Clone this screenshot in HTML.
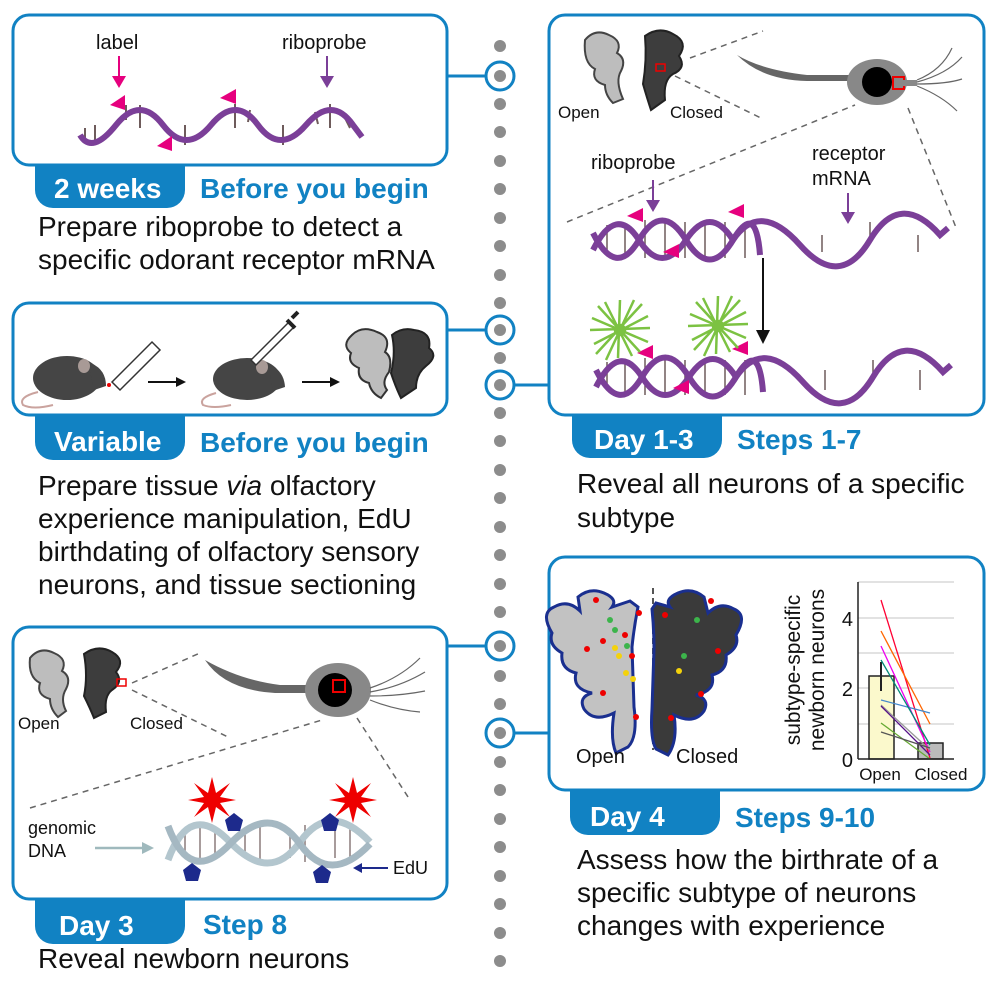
<!DOCTYPE html>
<html><head><meta charset="utf-8"><style>
html,body{margin:0;padding:0;background:#fff}
svg{display:block}
text{font-family:"Liberation Sans",Arial,sans-serif}
</style></head><body>
<svg width="996" height="996" viewBox="0 0 996 996" xmlns="http://www.w3.org/2000/svg">

<!-- timeline dots -->
<g fill="#8c8c8c">
<circle cx="500" cy="46" r="6"/><circle cx="500" cy="104" r="6"/><circle cx="500" cy="132" r="6"/><circle cx="500" cy="161" r="6"/><circle cx="500" cy="189" r="6"/><circle cx="500" cy="218" r="6"/><circle cx="500" cy="246" r="6"/><circle cx="500" cy="275" r="6"/><circle cx="500" cy="303" r="6"/><circle cx="500" cy="358" r="6"/><circle cx="500" cy="413" r="6"/><circle cx="500" cy="441" r="6"/><circle cx="500" cy="470" r="6"/><circle cx="500" cy="498" r="6"/><circle cx="500" cy="527" r="6"/><circle cx="500" cy="555" r="6"/><circle cx="500" cy="584" r="6"/><circle cx="500" cy="612" r="6"/><circle cx="500" cy="676" r="6"/><circle cx="500" cy="704" r="6"/><circle cx="500" cy="762" r="6"/><circle cx="500" cy="790" r="6"/><circle cx="500" cy="819" r="6"/><circle cx="500" cy="847" r="6"/><circle cx="500" cy="876" r="6"/><circle cx="500" cy="904" r="6"/><circle cx="500" cy="933" r="6"/><circle cx="500" cy="961" r="6"/>
<circle cx="500" cy="76" r="6"/><circle cx="500" cy="330" r="6"/><circle cx="500" cy="385" r="6"/><circle cx="500" cy="646" r="6"/><circle cx="500" cy="733" r="6"/>
</g>
<g fill="none" stroke="#1182c3" stroke-width="3">
<circle cx="500" cy="76" r="14"/><circle cx="500" cy="330" r="14"/><circle cx="500" cy="385" r="14"/><circle cx="500" cy="646" r="14"/><circle cx="500" cy="733" r="14"/>
<line x1="447" y1="76" x2="486" y2="76"/><line x1="447" y1="330" x2="486" y2="330"/><line x1="514" y1="385" x2="550" y2="385"/><line x1="447" y1="646" x2="486" y2="646"/><line x1="514" y1="733" x2="550" y2="733"/>
</g>

<!-- boxes -->
<g fill="#fff" stroke="#1182c3" stroke-width="3">
<rect x="13" y="15" width="434" height="150" rx="16"/>
<rect x="13" y="303" width="434" height="112" rx="16"/>
<rect x="13" y="627" width="434" height="272" rx="16"/>
<rect x="549" y="15" width="435" height="400" rx="16"/>
<rect x="549" y="557" width="435" height="233" rx="16"/>
</g>
<!-- tabs -->
<g fill="#1182c3">
<path d="M35,165 h150 v25 a18,18 0 0 1 -18,18 h-114 a18,18 0 0 1 -18,-18z"/>
<path d="M35,415 h150 v27 a18,18 0 0 1 -18,18 h-114 a18,18 0 0 1 -18,-18z"/>
<path d="M35,899 h150 v27 a18,18 0 0 1 -18,18 h-114 a18,18 0 0 1 -18,-18z"/>
<path d="M572,415 h150 v25 a18,18 0 0 1 -18,18 h-114 a18,18 0 0 1 -18,-18z"/>
<path d="M570,790 h150 v27 a18,18 0 0 1 -18,18 h-114 a18,18 0 0 1 -18,-18z"/>
</g>
<g font-weight="bold" font-size="28" fill="#fff">
<text x="54" y="198">2 weeks</text>
<text x="54" y="451">Variable</text>
<text x="59" y="935">Day 3</text>
<text x="594" y="449">Day 1-3</text>
<text x="590" y="826">Day 4</text>
</g>
<g font-weight="bold" font-size="28" fill="#1182c3">
<text x="200" y="198">Before you begin</text>
<text x="200" y="452">Before you begin</text>
<text x="203" y="934">Step 8</text>
<text x="737" y="449">Steps 1-7</text>
<text x="735" y="827">Steps 9-10</text>
</g>
<g font-size="28" fill="#111">
<text x="38" y="236">Prepare riboprobe to detect a</text>
<text x="38" y="269">specific odorant receptor mRNA</text>
<text x="38" y="495">Prepare tissue <tspan font-style="italic">via</tspan> olfactory</text>
<text x="38" y="528">experience manipulation, EdU</text>
<text x="38" y="561">birthdating of olfactory sensory</text>
<text x="38" y="594">neurons, and tissue sectioning</text>
<text x="38" y="968">Reveal newborn neurons</text>
<text x="577" y="493">Reveal all neurons of a specific</text>
<text x="577" y="527">subtype</text>
<text x="577" y="869">Assess how the birthrate of a</text>
<text x="577" y="902">specific subtype of neurons</text>
<text x="577" y="935">changes with experience</text>
</g>

<!-- Panel 1 DNA -->
<g stroke="#6e5b5b" stroke-width="2">
<line x1="85" y1="128" x2="85" y2="143"/><line x1="95" y1="125" x2="95" y2="145"/><line x1="126" y1="105" x2="126" y2="120"/><line x1="140" y1="105" x2="140" y2="128"/><line x1="185" y1="125" x2="185" y2="145"/><line x1="235" y1="104" x2="235" y2="128"/><line x1="250" y1="110" x2="248" y2="122"/><line x1="283" y1="125" x2="283" y2="145"/><line x1="330" y1="104" x2="330" y2="128"/><line x1="315" y1="112" x2="318" y2="124"/><line x1="345" y1="118" x2="350" y2="128"/>
</g>
<path d="M80,135 Q92,155 116,125 T163,125 T211,125 T258,125 T306,125 T353,125 L362,137" fill="none" stroke="#7b3f98" stroke-width="6"/>
<text x="96" y="49" font-size="20" fill="#111">label</text>
<text x="282" y="49" font-size="20" fill="#111">riboprobe</text>
<line x1="119" y1="56" x2="119" y2="80" stroke="#e6007e" stroke-width="2"/><path d="M112,76 L119,88 L126,76z" fill="#e6007e"/>
<line x1="327" y1="56" x2="327" y2="80" stroke="#7b3f98" stroke-width="2"/><path d="M320,76 L327,88 L334,76z" fill="#7b3f98"/>
<g fill="#e6007e"><path d="M110,105 l15,-10 v15z"/><path d="M157,146 l15,-10 v15z"/><path d="M220,98 l16,-9 v15z"/></g>

<!-- Panel 2 mice -->
<g>
<ellipse cx="67" cy="378" rx="34" ry="22" fill="#454545"/><path d="M88,362 q18,6 18,24 l-12,4 z" fill="#454545"/>
<ellipse cx="84" cy="366" rx="6" ry="7" fill="#a89a96"/>
<path d="M38,392 q-20,5 -15,13 q10,5 30,0" fill="none" stroke="#caa39e" stroke-width="2"/>
<path d="M112,382 l40,-40 l8,8 l-40,40 z" fill="#fff" stroke="#333" stroke-width="1.5"/>
<circle cx="109" cy="385" r="2" fill="#e00"/>
<line x1="148" y1="382" x2="178" y2="382" stroke="#111" stroke-width="2"/><path d="M176,377 l10,5 l-10,5z" fill="#111"/>
<ellipse cx="247" cy="379" rx="34" ry="21" fill="#454545"/><path d="M268,364 q16,6 17,23 l-12,4 z" fill="#454545"/>
<ellipse cx="262" cy="367" rx="6" ry="7" fill="#a89a96"/>
<path d="M216,393 q-18,5 -13,12 q10,4 28,0" fill="none" stroke="#caa39e" stroke-width="2"/>
<path d="M251,360 l38,-38 l5,5 l-38,38z" fill="#fff" stroke="#333" stroke-width="1.5"/>
<path d="M287,320 l8,8 M292,318 l6,-6" stroke="#222" stroke-width="4"/>
<line x1="302" y1="382" x2="332" y2="382" stroke="#111" stroke-width="2"/><path d="M330,377 l10,5 l-10,5z" fill="#111"/>
<path d="M352,335 q10,-10 25,-3 q15,5 8,20 q8,5 4,20 q-8,10 -2,18 l-6,8 q-10,-5 -12,-15 q-12,-3 -10,-15 q-12,-5 -8,-15 q-10,-8 1,-18z" fill="#bdbdbd" stroke="#333" stroke-width="2"/>
<path d="M392,335 q10,-8 22,-5 q18,2 15,18 q10,8 -3,18 q-10,8 -10,22 l-15,10 q-5,-10 -10,-25 q5,-20 1,-38z" fill="#3d3d3d" stroke="#222" stroke-width="2"/>
</g>

<!-- Panel 3 -->
<path d="M30,658 q10,-12 24,-5 q14,6 8,18 q10,6 4,18 q-6,10 0,22 l-8,6 q-8,-8 -8,-18 q-14,-4 -10,-16 q-12,-6 -10,-25z" fill="#bdbdbd" stroke="#444" stroke-width="2"/>
<path d="M84,654 q14,-10 28,-2 q14,8 4,20 q8,10 -4,18 q-8,6 -6,22 l-12,6 q-4,-10 -10,-22 q4,-20 0,-42z" fill="#3d3d3d" stroke="#222" stroke-width="2"/>
<rect x="117" y="679" width="9" height="7" fill="none" stroke="#e00" stroke-width="1.5"/>
<text x="18" y="729" font-size="17" fill="#111">Open</text>
<text x="130" y="729" font-size="17" fill="#111">Closed</text>
<g stroke="#666" stroke-width="1.5" stroke-dasharray="6,5" fill="none">
<line x1="132" y1="683" x2="200" y2="653"/><line x1="132" y1="690" x2="230" y2="738"/>
<line x1="30" y1="808" x2="322" y2="720"/><line x1="357" y1="718" x2="410" y2="800"/>
</g>
<path d="M205,660 q20,30 70,33 h35 l0,-8 h-30 q-40,-5 -75,-25z" fill="#666"/>
<ellipse cx="338" cy="690" rx="33" ry="27" fill="#888"/><circle cx="335" cy="690" r="17" fill="#000"/>
<rect x="333" y="680" width="12" height="12" fill="none" stroke="#e00" stroke-width="2"/>
<g stroke="#666" fill="none" stroke-width="1.2"><path d="M370,688 q30,-10 50,-30"/><path d="M370,692 q30,-5 55,-20"/><path d="M370,696 q30,0 55,-5"/><path d="M370,700 q25,10 50,12"/></g>
<g stroke="#8a7a7a" stroke-width="1.5">
<line x1="185" y1="830" x2="185" y2="858"/><line x1="200" y1="825" x2="200" y2="862"/><line x1="215" y1="830" x2="215" y2="858"/><line x1="245" y1="830" x2="245" y2="858"/><line x1="260" y1="825" x2="260" y2="862"/><line x1="290" y1="830" x2="290" y2="858"/><line x1="305" y1="825" x2="305" y2="862"/><line x1="335" y1="830" x2="335" y2="858"/><line x1="350" y1="825" x2="350" y2="862"/>
</g>
<path d="M168,860 Q190,800 230,842 T300,842 T370,842" fill="none" stroke="#b3c6ce" stroke-width="7"/>
<path d="M168,826 Q190,886 230,844 T300,844 T370,844" fill="none" stroke="#a5b8c2" stroke-width="7"/>
<g fill="#e00">
<polygon points="212,777 216,793 230,783 220,797 236,800 220,803 230,817 216,807 212,823 208,807 194,817 204,803 188,800 204,797 194,783 208,793"/>
<polygon points="353,777 357,793 371,783 361,797 377,800 361,803 371,817 357,807 353,823 349,807 335,817 345,803 329,800 345,797 335,783 349,793"/>
</g>
<g fill="#1d2a8c">
<polygon points="234,813 243,820 240,831 228,831 225,820"/><polygon points="330,813 339,820 336,831 324,831 321,820"/>
<polygon points="192,863 201,870 198,881 186,881 183,870"/><polygon points="322,865 331,872 328,883 316,883 313,872"/>
</g>
<text x="28" y="834" font-size="18" fill="#111">genomic</text>
<text x="28" y="857" font-size="18" fill="#111">DNA</text>
<line x1="95" y1="848" x2="145" y2="848" stroke="#9fb9bd" stroke-width="2.5"/><path d="M142,842 l12,6 l-12,6z" fill="#9fb9bd"/>
<line x1="362" y1="868" x2="388" y2="868" stroke="#1d2a8c" stroke-width="2"/><path d="M362,863 l-9,5 l9,5z" fill="#1d2a8c"/>
<text x="393" y="874" font-size="18" fill="#111">EdU</text>

<!-- Right top panel -->
<path d="M585,40 q10,-12 24,-5 q14,6 8,18 q10,6 4,18 q-6,10 2,28 l-10,4 q-8,-8 -8,-18 q-14,-4 -10,-16 q-12,-6 -10,-29z" fill="#bdbdbd" stroke="#444" stroke-width="2"/>
<path d="M645,36 q14,-10 28,-2 q16,8 6,22 q8,12 -6,18 q-10,6 -8,26 l-14,10 q-4,-12 -8,-26 q4,-24 2,-48z" fill="#3d3d3d" stroke="#222" stroke-width="2"/>
<rect x="656" y="64" width="9" height="7" fill="none" stroke="#e00" stroke-width="1.5"/>
<text x="558" y="118" font-size="17" fill="#111">Open</text>
<text x="670" y="118" font-size="17" fill="#111">Closed</text>
<g stroke="#666" stroke-width="1.5" stroke-dasharray="6,5" fill="none">
<line x1="690" y1="58" x2="763" y2="31"/><line x1="675" y1="76" x2="763" y2="119"/>
<line x1="567" y1="222" x2="855" y2="105"/><line x1="908" y1="108" x2="957" y2="230"/>
</g>
<path d="M737,55 q25,25 70,26 h75 l0,-6 h-75 q-45,-5 -70,-20z" fill="#666"/>
<ellipse cx="877" cy="82" rx="30" ry="23" fill="#888"/><circle cx="877" cy="82" r="15" fill="#000"/>
<rect x="893" y="77" width="11" height="12" fill="#888" stroke="#e00" stroke-width="2"/>
<path d="M903,80 h14 v6 h-14z" fill="#888"/>
<g stroke="#666" fill="none" stroke-width="1.2"><path d="M917,80 q25,-10 35,-32"/><path d="M917,82 q30,-8 45,-25"/><path d="M917,84 q30,0 45,-5"/><path d="M917,86 q25,10 40,25"/></g>
<g stroke="#6e5b5b" stroke-width="1.5">
<line x1="607" y1="225" x2="607" y2="250"/><line x1="625" y1="225" x2="625" y2="258"/><line x1="645" y1="220" x2="645" y2="258"/><line x1="665" y1="222" x2="665" y2="258"/><line x1="685" y1="222" x2="685" y2="258"/><line x1="705" y1="222" x2="705" y2="258"/><line x1="725" y1="222" x2="725" y2="258"/><line x1="745" y1="222" x2="745" y2="258"/><line x1="822" y1="235" x2="822" y2="252"/><line x1="870" y1="222" x2="870" y2="242"/><line x1="918" y1="235" x2="918" y2="252"/>
<line x1="607" y1="362" x2="607" y2="388"/><line x1="625" y1="360" x2="625" y2="395"/><line x1="645" y1="358" x2="645" y2="395"/><line x1="665" y1="360" x2="665" y2="395"/><line x1="685" y1="360" x2="685" y2="395"/><line x1="705" y1="360" x2="705" y2="395"/><line x1="725" y1="360" x2="725" y2="395"/><line x1="745" y1="360" x2="745" y2="395"/><line x1="825" y1="370" x2="825" y2="390"/><line x1="873" y1="360" x2="873" y2="380"/><line x1="920" y1="370" x2="920" y2="390"/>
</g>
<g fill="none" stroke="#7b3f98" stroke-width="6">
<path d="M593,233 Q616,279 639,240 T686,240 T733,240 T760,255"/>
<path d="M593,250 Q616,204 639,240 T686,240 T733,240 Q760,200 800,245 T870,240 T940,235 L948,228"/>
<path d="M596,370 Q619,416 642,377 T689,377 T736,377 T763,392"/>
<path d="M596,387 Q619,341 642,377 T689,377 T736,377 Q763,337 803,382 T873,377 T943,372 L951,365"/>
</g>
<g fill="#e6007e"><path d="M627,216 l16,-8 v14z"/><path d="M663,252 l16,-8 v14z"/><path d="M728,212 l16,-8 v14z"/>
<path d="M637,353 l16,-8 v14z"/><path d="M673,388 l16,-8 v14z"/><path d="M732,349 l16,-8 v14z"/></g>
<text x="591" y="169" font-size="20" fill="#111">riboprobe</text>
<text x="812" y="160" font-size="20" fill="#111">receptor</text>
<text x="812" y="185" font-size="20" fill="#111">mRNA</text>
<line x1="653" y1="180" x2="653" y2="203" stroke="#7b3f98" stroke-width="2"/><path d="M646,200 l7,12 l7,-12z" fill="#7b3f98"/>
<line x1="848" y1="193" x2="848" y2="215" stroke="#7b3f98" stroke-width="2"/><path d="M841,212 l7,12 l7,-12z" fill="#7b3f98"/>
<line x1="763" y1="258" x2="763" y2="335" stroke="#111" stroke-width="2"/><path d="M756,330 l7,14 l7,-14z" fill="#111"/>
<g stroke="#7cc242" stroke-width="2.5" fill="#7cc242">
<path d="M620,300 L618,358 M590,330 L650,328 M598,306 L640,352 M642,304 L596,354 M605,302 L632,356 M634,300 L606,360 M592,318 L648,342 M594,344 L648,316"/>
<circle cx="620" cy="330" r="5"/>
<path d="M718,296 L716,354 M688,326 L748,324 M696,302 L738,348 M740,300 L694,350 M703,298 L730,352 M732,296 L704,356 M690,314 L746,338 M692,340 L746,312"/>
<circle cx="718" cy="326" r="5"/>
</g>

<!-- Right bottom panel -->
<line x1="653" y1="588" x2="653" y2="750" stroke="#555" stroke-width="2" stroke-dasharray="6,4"/>
<path d="M578,597 q12,-10 26,-4 q14,6 8,14 l18,-6 l8,6 q-4,20 -6,40 l2,60 q4,30 -6,40 l-12,6 q-6,-14 -2,-40 q-20,10 -30,-4 q-6,-12 8,-16 q-20,-4 -16,-20 q-16,-4 -14,-20 q-14,-8 -10,-20 q-12,-20 2,-26 q14,-8 26,4z" fill="#c2c2c2" stroke="#1a2f8f" stroke-width="3"/>
<path d="M704,597 q-12,-10 -26,-4 q-14,6 -8,14 l-14,-4 l-4,6 q2,20 2,40 l-2,60 q-2,30 4,40 l12,6 q10,-14 6,-40 q20,10 30,-4 q6,-12 -8,-16 q20,-4 16,-20 q16,-4 14,-20 q14,-8 10,-20 q12,-20 -2,-26 q-14,-8 -26,4z" fill="#3a3a3a" stroke="#1a2f8f" stroke-width="3"/>
<g fill="#e00"><circle cx="596" cy="600" r="3"/><circle cx="639" cy="613" r="3"/><circle cx="603" cy="641" r="3"/><circle cx="587" cy="649" r="3"/><circle cx="625" cy="635" r="3"/><circle cx="632" cy="656" r="3"/><circle cx="603" cy="693" r="3"/><circle cx="636" cy="717" r="3"/>
<circle cx="711" cy="601" r="3"/><circle cx="665" cy="615" r="3"/><circle cx="718" cy="651" r="3"/><circle cx="701" cy="694" r="3"/><circle cx="671" cy="718" r="3"/></g>
<g fill="#3cb44b"><circle cx="610" cy="620" r="3"/><circle cx="615" cy="630" r="3"/><circle cx="627" cy="646" r="3"/><circle cx="697" cy="620" r="3"/><circle cx="684" cy="656" r="3"/></g>
<g fill="#f4d20b"><circle cx="615" cy="648" r="3"/><circle cx="619" cy="656" r="3"/><circle cx="626" cy="673" r="3"/><circle cx="633" cy="679" r="3"/><circle cx="679" cy="671" r="3"/></g>
<text x="576" y="763" font-size="20" fill="#111">Open</text>
<text x="676" y="763" font-size="20" fill="#111">Closed</text>
<g stroke="#d8d8d8" stroke-width="1.5"><line x1="858" y1="582" x2="954" y2="582"/><line x1="858" y1="618" x2="954" y2="618"/><line x1="858" y1="653" x2="954" y2="653"/><line x1="858" y1="688" x2="954" y2="688"/><line x1="858" y1="724" x2="954" y2="724"/></g>
<rect x="869" y="676" width="25" height="83" fill="#fbf9cc" stroke="#222" stroke-width="1.5"/>
<rect x="918" y="743" width="25" height="16" fill="#bbb" stroke="#222" stroke-width="1.5"/>
<line x1="881" y1="662" x2="881" y2="691" stroke="#222" stroke-width="2"/>
<g stroke-width="1.3" fill="none">
<line x1="881" y1="600" x2="930" y2="758" stroke="#f03"/><line x1="881" y1="631" x2="930" y2="724" stroke="#f60"/>
<line x1="881" y1="646" x2="930" y2="752" stroke="#e0e"/><line x1="881" y1="700" x2="930" y2="713" stroke="#48c"/>
<line x1="881" y1="705" x2="930" y2="750" stroke="#999"/><line x1="881" y1="706" x2="930" y2="755" stroke="#518"/>
<line x1="881" y1="723" x2="930" y2="759" stroke="#6a3"/><line x1="881" y1="732" x2="930" y2="748" stroke="#555"/>
<line x1="881" y1="660" x2="930" y2="745" stroke="#087"/>
</g>
<line x1="858" y1="582" x2="858" y2="759" stroke="#222" stroke-width="1.5"/><line x1="858" y1="759" x2="954" y2="759" stroke="#222" stroke-width="1.5"/>
<g font-size="20" fill="#111" text-anchor="end"><text x="853" y="767">0</text><text x="853" y="696">2</text><text x="853" y="626">4</text></g>
<text x="880" y="780" font-size="17" fill="#111" text-anchor="middle">Open</text>
<text x="941" y="780" font-size="17" fill="#111" text-anchor="middle">Closed</text>
<g font-size="21" fill="#111" text-anchor="middle" transform="translate(800,670) rotate(-90)">
<text x="0" y="0">subtype-specific</text><text x="0" y="24">newborn neurons</text></g>
</svg>
</body></html>
